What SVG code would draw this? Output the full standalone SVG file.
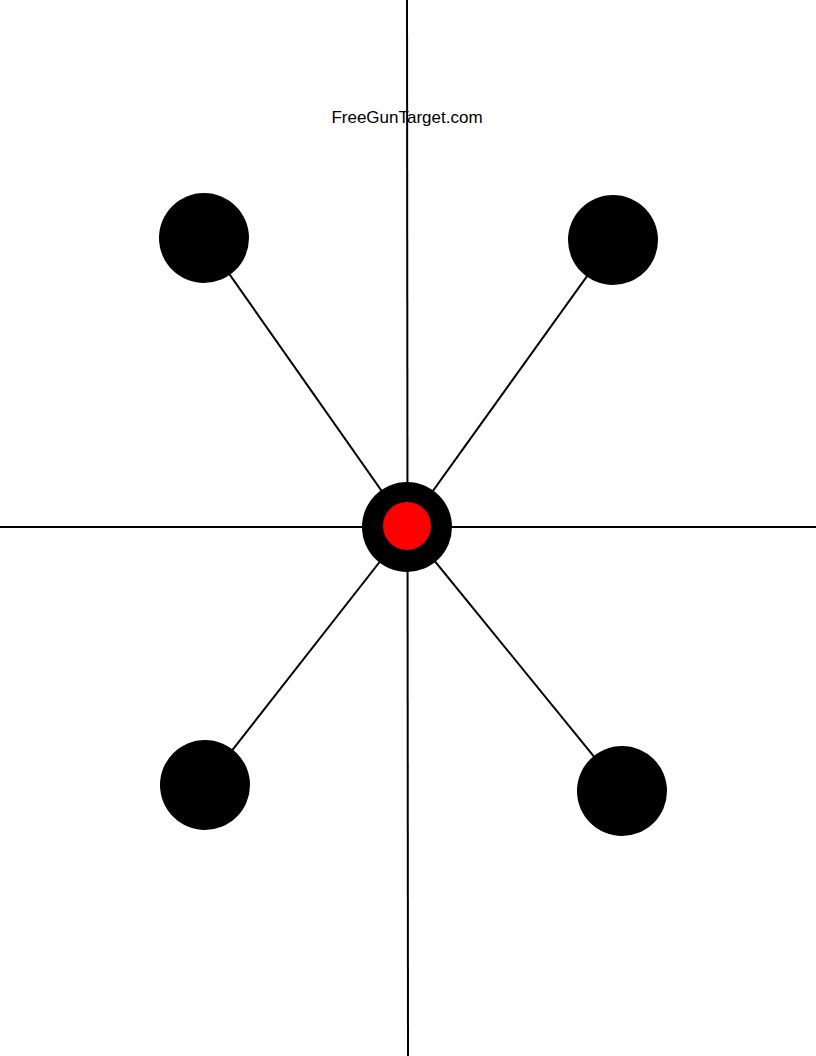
<svg xmlns="http://www.w3.org/2000/svg" width="816" height="1056" viewBox="0 0 816 1056">
<style>.l{stroke:#000;stroke-width:2;fill:none}.d{fill:#000}</style>
<rect width="816" height="1056" fill="#fff"/>
<g id="connectors">
<line class="l" x1="407" y1="0" x2="408" y2="1056"/>
<line class="l" x1="0" y1="527" x2="816" y2="527"/>
<line class="l" x1="204" y1="238" x2="407" y2="527"/>
<line class="l" x1="613" y1="240" x2="407" y2="527"/>
<line class="l" x1="205" y1="785" x2="407" y2="527"/>
<line class="l" x1="622" y1="791" x2="407" y2="527"/>
</g>
<g id="tl"><circle class="d" cx="204" cy="238" r="45"/></g>
<g id="tr"><circle class="d" cx="613" cy="240" r="45"/></g>
<g id="bl"><circle class="d" cx="205" cy="785" r="45"/></g>
<g id="br"><circle class="d" cx="622" cy="791" r="45"/></g>
<g id="center"><circle class="d" cx="407" cy="527" r="45"/><circle cx="407" cy="526" r="24" fill="#f00"/></g>
<text x="407" y="123" text-anchor="middle" font-family="Liberation Sans, Arial, sans-serif" font-size="17">FreeGunTarget.com</text>
</svg>
